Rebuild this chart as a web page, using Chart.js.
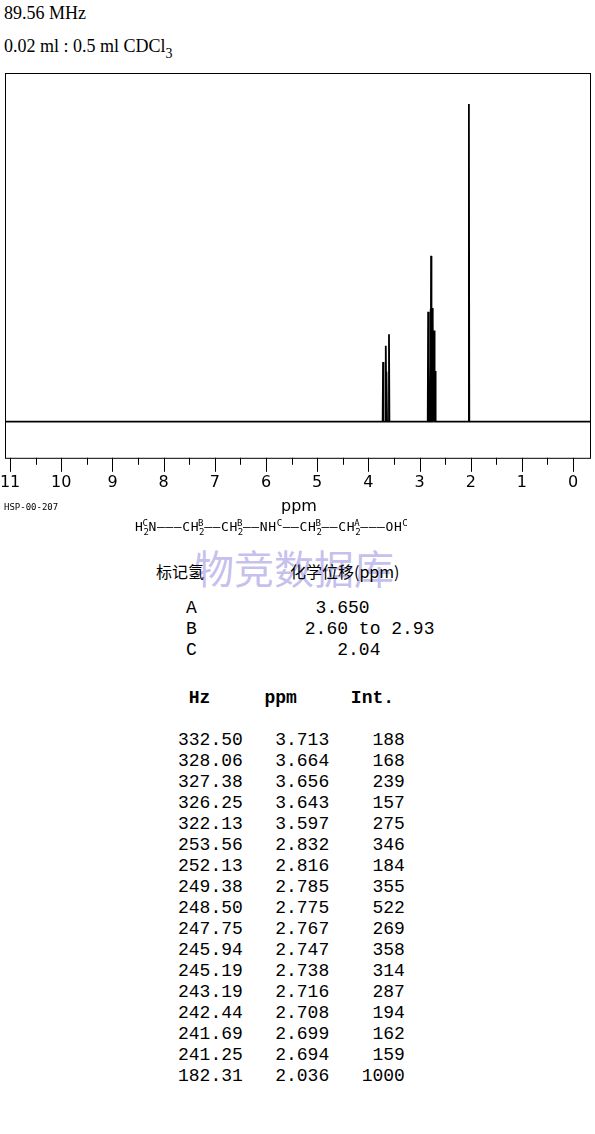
<!DOCTYPE html>
<html>
<head>
<meta charset="utf-8">
<script src="https://cdn.jsdelivr.net/npm/chart.js@4"></script>
<style>
body { margin:0; width:595px; height:1134px; background:#fff; position:relative; font-family:"Liberation Serif", serif; }
.abs { position:absolute; white-space:pre; color:#000; }
#wrap { position:absolute; left:0; top:0; width:595px; height:507px; }
.mono { font-family:"Liberation Mono", monospace; font-size:18px; }
sub, sup { font-size:9px; }
</style>
</head>
<body>
<div class="abs" style="left:4px;top:3px;font-size:18px;">89.56 MHz</div>
<div class="abs" style="left:4px;top:36px;font-size:18px;">0.02 ml : 0.5 ml CDCl<sub style="font-size:14px;vertical-align:-6px;">3</sub></div>
<div id="wrap"><canvas id="nmr"></canvas></div>
<div class="abs" style="left:281px;top:496px;font-family:'DejaVu Sans';font-size:16px;">ppm</div>
<div class="abs" style="left:4px;top:502px;font-family:'DejaVu Sans Mono',monospace;font-size:9px;">HSP-00-207</div>
<div class="abs" style="left:135px;top:518px;font-family:'DejaVu Sans Mono',monospace;font-size:13px;letter-spacing:0.6px;">H<sub>2</sub><sup style="margin-left:-7px">C</sup>N&#8212;&#8212;&#8212;CH<sub>2</sub><sup style="margin-left:-7px">B</sup>&#8212;&#8212;CH<sub>2</sub><sup style="margin-left:-7px">B</sup>&#8212;&#8212;NH<sup>C</sup>&#8212;&#8212;CH<sub>2</sub><sup style="margin-left:-7px">B</sup>&#8212;&#8212;CH<sub>2</sub><sup style="margin-left:-7px">A</sup>&#8212;&#8212;&#8212;OH<sup>C</sup></div>
<div class="abs" style="left:194px;top:538px;font-family:'Noto Sans CJK SC';font-size:40px;color:rgba(160,150,225,0.6);">物竞数据库</div>
<div class="abs" style="left:156px;top:559px;font-family:'Noto Sans CJK SC';font-size:16px;">标记氢</div>
<div class="abs" style="left:290px;top:559px;font-family:'Noto Sans CJK SC';font-size:16px;">化学位移(ppm)</div>
<div id="assign" class="abs mono" style="left:186px;top:598px;line-height:21px;"></div>
<div id="table" class="abs mono" style="left:178px;top:688px;line-height:21px;"></div>
<script>
// peak list (Hz, ppm, Int.)
var peakHz = [332.50, 328.06, 327.38, 326.25, 322.13, 253.56, 252.13, 249.38, 248.50, 247.75, 245.94, 245.19, 243.19, 242.44, 241.69, 241.25, 182.31];
var peakPpm = [3.713, 3.664, 3.656, 3.643, 3.597, 2.832, 2.816, 2.785, 2.775, 2.767, 2.747, 2.738, 2.716, 2.708, 2.699, 2.694, 2.036];
var peakInt = [188, 168, 239, 157, 275, 346, 184, 355, 522, 269, 358, 314, 287, 194, 162, 159, 1000];
var assignLabels = ["A", "B", "C"];
var assignShifts = ["3.650", "2.60 to 2.93", "2.04"];
var tickValues = [0, 1, 2, 3, 4, 5, 6, 7, 8, 9, 10, 11];

// text tables
var assignGap = [11, 10, 13];
var a = "";
for (var i = 0; i < assignLabels.length; i++) {
    a += assignLabels[i] + " ".repeat(assignGap[i]) + assignShifts[i] + "\n";
}
document.getElementById("assign").textContent = a;
var t = "<b> Hz     ppm     Int.</b>\n\n";
for (var i = 0; i < peakHz.length; i++) {
    t += peakHz[i].toFixed(2).padStart(6) + "   " + peakPpm[i].toFixed(3) + String(peakInt[i]).padStart(7) + "\n";
}
document.getElementById("table").innerHTML = t;

// spectrum line built from the peak list
var pts = [{x: 11.1, y: 0}];
for (var i = 0; i < peakPpm.length; i++) {
    pts.push({x: peakPpm[i] + 0.008, y: 0});
    pts.push({x: peakPpm[i], y: peakInt[i]});
    pts.push({x: peakPpm[i] - 0.008, y: 0});
}
pts.push({x: -0.35, y: 0});

var frame = {
    id: 'frame',
    afterDraw: function(chart) {
        var c = chart.ctx, ca = chart.chartArea, xs = chart.scales.x;
        c.save();
        c.strokeStyle = '#000';
        c.lineWidth = 1;
        c.strokeRect(ca.left + 0.5, ca.top + 0.5, ca.right - ca.left - 1, ca.bottom - ca.top);
        for (var v = 0; v <= 11; v += 0.5) {
            var px = Math.round(xs.getPixelForValue(v)) + 0.5;
            c.beginPath();
            c.moveTo(px, ca.bottom);
            c.lineTo(px, ca.bottom + (v % 1 === 0 ? 14 : 7));
            c.stroke();
        }
        c.restore();
    }
};

new Chart(document.getElementById("nmr").getContext('2d'), {
    type: 'line',
    data: { datasets: [{ data: pts, borderColor: '#000', borderWidth: 1.8, pointRadius: 0, tension: 0 }] },
    options: {
        maintainAspectRatio: false,
        animation: false,
        layout: { padding: { left: 5, right: 4, top: 73, bottom: 0 } },
        plugins: { legend: { display: false }, tooltip: { enabled: false } },
        scales: {
            x: {
                type: 'linear', min: -0.35, max: 11.1, reverse: true,
                afterBuildTicks: function(axis) { axis.ticks = tickValues.map(function(v) { return {value: v}; }); },
                grid: { display: false, drawTicks: false },
                border: { display: false },
                ticks: { color: '#000', font: { family: 'DejaVu Sans', size: 16 }, padding: 15, maxRotation: 0, autoSkip: false }
            },
            y: { display: false, min: -114, max: 1098 }
        }
    },
    plugins: [frame]
});
</script>
</body>
</html>
